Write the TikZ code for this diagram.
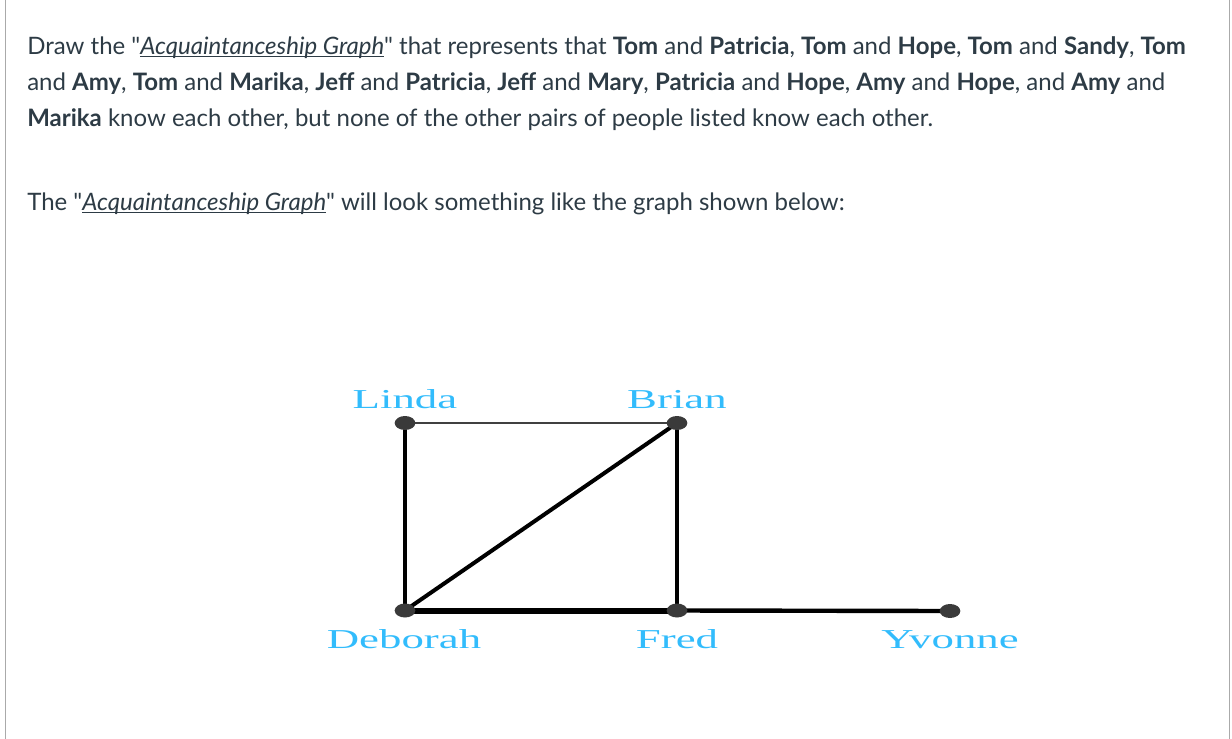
\documentclass[tikz,border=0pt]{standalone}
\usepackage{fontspec}
\setmainfont{Lato}[Ligatures=TeXOff]
\newfontfamily\lblfont{Liberation Serif}
\usetikzlibrary{shapes.geometric,backgrounds}
\definecolor{txt}{HTML}{2D3B45}
\definecolor{lblc}{RGB}{50,188,252}
\definecolor{dotc}{HTML}{3A3A3A}
\definecolor{framec}{HTML}{AAAAAA}
\newcommand{\ulx}[1]{\setbox0=\hbox{#1}\rlap{\rule[-2.4pt]{\wd0}{1.1pt}}\box0}
\newcommand{\acq}{\ulx{\textit{Acquaintanceship Graph}}}
\tikzset{
  para/.style={anchor=base west, inner sep=0pt, text=txt, font=\fontsize{18pt}{27pt}\selectfont},
  vdot/.style={ellipse, fill=dotc, inner sep=0pt, minimum width=15.5pt, minimum height=10.5pt},
  vlabel/.style={anchor=base, inner sep=0pt, text=lblc, font=\lblfont\fontsize{20.5pt}{24pt}\selectfont},
  edge/.style={draw=black, line cap=round}
}
\newcommand{\wideword}[1]{\scalebox{1.64}[1]{#1}}
\begin{document}
\begin{tikzpicture}[x=0.75pt, y=-0.75pt]
\useasboundingbox (0,0) rectangle (1232,739);
\draw[framec, line width=1.1pt] (5.5,0) -- (5.5,739);
\draw[framec, line width=1.1pt] (1229.5,0) -- (1229.5,739);

\node[para] (l1) at (27,54) {Draw the "\acq" that represents that \textbf{Tom} and \textbf{Patricia}, \textbf{Tom} and \textbf{Hope}, \textbf{Tom} and \textbf{Sandy}, \textbf{Tom}};
\node[para] (l2) at (27,90) {and \textbf{Amy}, \textbf{Tom} and \textbf{Marika}, \textbf{Jeff} and \textbf{Patricia}, \textbf{Jeff} and \textbf{Mary}, \textbf{Patricia} and \textbf{Hope}, \textbf{Amy} and \textbf{Hope}, and \textbf{Amy} and};
\node[para] (l3) at (27,126) {\textbf{Marika} know each other, but none of the other pairs of people listed know each other.};
\node[para] (l4) at (27,210) {The "\acq" will look something like the graph shown below:};

\node[vdot] (L) at (405,423) {};
\node[vdot] (B) at (677,423) {};
\node[vdot] (D) at (405,610.5) {};
\node[vdot] (F) at (677,610.5) {};
\node[vdot] (Y) at (950,611) {};

\begin{pgfonlayer}{background}
\draw[edge, line width=1.6pt, draw=black!75] (L.center) -- (B.center);
\draw[edge, line width=3pt] (L.center) -- (D.center);
\draw[edge, line width=2.8pt] (B.center) -- (F.center);
\draw[edge, line width=3pt] (D.center) -- (B.center);
\draw[edge, line width=4.5pt] (D.center) -- (F.center);
\draw[edge, line width=3.3pt] (F.center) -- (Y.center);
\end{pgfonlayer}

\node[vlabel] (tL) at (405,408) {\wideword{Linda}};
\node[vlabel] (tB) at (677,408) {\wideword{Brian}};
\node[vlabel] (tD) at (404,648) {\wideword{Deborah}};
\node[vlabel] (tF) at (677,648) {\wideword{Fred}};
\node[vlabel] (tY) at (950,648) {\wideword{Yvonne}};
\end{tikzpicture}
\end{document}
